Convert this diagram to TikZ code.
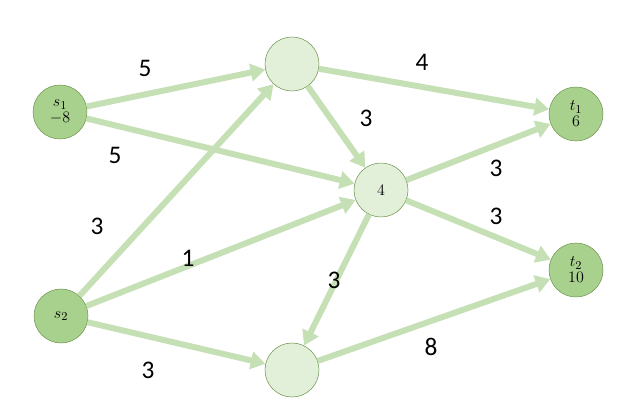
\documentclass[tikz,border=0pt]{standalone}
\usepackage{fontspec}
\setmainfont{Carlito}
\usetikzlibrary{arrows.meta}
\begin{document}
\begin{tikzpicture}[x=0.75pt,y=-0.75pt,
  dk/.style={circle,fill={rgb,255:red,169;green,209;blue,142},draw={rgb,255:red,112;green,150;blue,80},minimum size=40.5pt,inner sep=0pt,font=\fontsize{13}{14}\selectfont,align=center},
  lt/.style={circle,fill={rgb,255:red,226;green,240;blue,217},draw={rgb,255:red,112;green,150;blue,80},minimum size=40.5pt,inner sep=0pt,font=\fontsize{12}{14}\selectfont},
  ed/.style={draw={rgb,255:red,197;green,224;blue,180},line width=4.5pt,-{Triangle[width=13pt,length=11pt]}},
  lb/.style={font=\fontsize{19}{21}\selectfont}]
\useasboundingbox (0,0) rectangle (641,410);
\node[dk] (s1) at (60,112) {$s_1$\\[-2pt]$-8$};
\node[lt] (a) at (292,64) {};
\node[lt] (m) at (381,190) {$4$};
\node[dk] (t1) at (576,114) {$t_1$\\[-2pt]$6$};
\node[dk] (t2) at (576,270) {$t_2$\\[-2pt]$10$};
\node[dk] (s2) at (61,316) {$s_2$};
\node[lt] (b) at (292,370) {};
\draw[ed] (s1) -- (a);
\draw[ed] (s1) -- (m);
\draw[ed] (a) -- (t1);
\draw[ed] (a) -- (m);
\draw[ed] (m) -- (t1);
\draw[ed] (m) -- (t2);
\draw[ed] (s2) -- (a);
\draw[ed] (s2) -- (m);
\draw[ed] (s2) -- (b);
\draw[ed] (m) -- (b);
\draw[ed] (b) -- (t2);
\node[lb] (l1) at (145,68) {5};
\node[lb] (l2) at (115,155) {5};
\node[lb] (l3) at (422,62) {4};
\node[lb] (l4) at (366,118) {3};
\node[lb] (l5) at (496,168) {3};
\node[lb] (l6) at (496,216) {3};
\node[lb] (l7) at (97,226) {3};
\node[lb] (l8) at (188,258) {1};
\node[lb] (l9) at (334,280) {3};
\node[lb] (l10) at (431,347) {8};
\node[lb] (l11) at (148,370) {3};
\end{tikzpicture}
\end{document}
